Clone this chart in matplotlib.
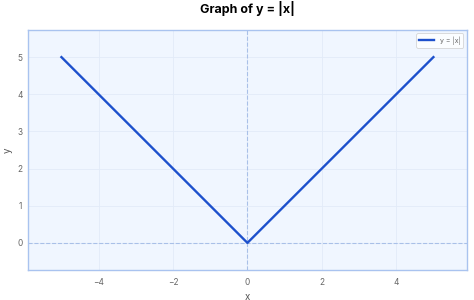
import numpy as np
import matplotlib.pyplot as plt

plt.rcParams['font.family'] = ['Inter', 'DejaVu Sans']

# data for y = |x|
x_vals = [-5, -4, -3, -2, -1, 0, 1, 2, 3, 4, 5]
y_vals = [5, 4, 3, 2, 1, 0, 1, 2, 3, 4, 5]
x_ticks = [-4, -2, 0, 2, 4]
y_ticks = [0, 1, 2, 3, 4, 5]

fig, ax = plt.subplots(figsize=(4.74, 3.0), dpi=100)
fig.subplots_adjust(left=0.059, right=0.985, top=0.9, bottom=0.1)

ax.set_facecolor('#f0f6ff')
ax.grid(True, color='#e2ebf8', linewidth=0.6, zorder=0)
ax.set_axisbelow(True)
ax.axhline(0, color='#a9c0e8', linestyle='--', linewidth=0.8, zorder=1)
ax.axvline(0, color='#a9c0e8', linestyle='--', linewidth=0.8, zorder=1)
ax.plot(x_vals, y_vals, color='#1d50cc', linewidth=1.7, label='y = |x|', zorder=3)

ax.set_xlim(-5.9, 5.9)
ax.set_ylim(-0.73, 5.73)
ax.set_xticks(x_ticks)
ax.set_yticks(y_ticks)
ax.tick_params(length=0, labelsize=6, colors='#666666')
ax.tick_params(axis='x', pad=6)
ax.tick_params(axis='y', pad=4)

for s in ax.spines.values():
    s.set_color('#a9c3ef')
    s.set_linewidth(1.0)

ax.set_xlabel('x', fontsize=7, color='#555555', labelpad=3)
ax.set_ylabel('y', fontsize=7, color='#555555', labelpad=3)
ax.set_title('Graph of y = |x|', fontsize=9, fontweight='bold', pad=12)

leg = ax.legend(loc='upper right', fontsize=5, frameon=True, handlelength=2.2)
leg.get_frame().set_edgecolor('#cccccc')
leg.get_frame().set_linewidth(0.6)
for t in leg.get_texts():
    t.set_color('#666666')

fig.savefig('out.png', dpi=100)
